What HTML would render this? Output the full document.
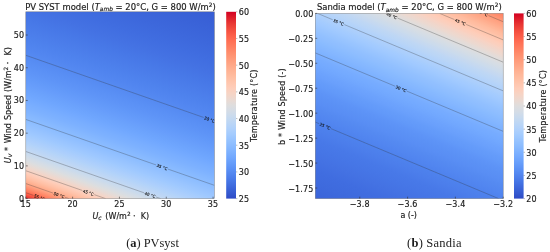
<!DOCTYPE html>
<html><head><meta charset="utf-8"><title>Figure</title>
<style>
html,body{margin:0;padding:0;background:#fff}
svg{display:block;filter:blur(.3px)}
text{font-family:"DejaVu Sans","Liberation Sans",sans-serif;fill:#1a1a1a;stroke:#1a1a1a;stroke-width:.16px}
.tk{font-size:8px}
.tl{letter-spacing:.14px}
.tick{stroke:#333;stroke-width:.6;fill:none}
.tt{font-size:8.45px}
.cl{font-size:4.05px;text-anchor:middle;fill:#111;stroke:#111;stroke-width:.1px;stroke-opacity:1}
.cap{font-family:"Liberation Serif","DejaVu Serif",serif;font-size:13.3px;fill:#1c1c1c;stroke:none}
</style></head><body>
<svg width="550" height="252" viewBox="0 0 550 252">
<defs>
<linearGradient id="gL" gradientUnits="userSpaceOnUse" x1="25.800" y1="198.600" x2="104.474" y2="-26.602"><stop offset="0.0000" stop-color="#db1428"/><stop offset="0.0021" stop-color="#e0232b"/><stop offset="0.0042" stop-color="#e42c2f"/><stop offset="0.0063" stop-color="#e83533"/><stop offset="0.0085" stop-color="#ec3e36"/><stop offset="0.0107" stop-color="#f0453a"/><stop offset="0.0130" stop-color="#f34d3e"/><stop offset="0.0154" stop-color="#f75342"/><stop offset="0.0177" stop-color="#fa5a46"/><stop offset="0.0202" stop-color="#fd614a"/><stop offset="0.0227" stop-color="#ff674f"/><stop offset="0.0253" stop-color="#ff6d53"/><stop offset="0.0279" stop-color="#ff7357"/><stop offset="0.0306" stop-color="#ff795c"/><stop offset="0.0333" stop-color="#ff7e60"/><stop offset="0.0362" stop-color="#ff8465"/><stop offset="0.0391" stop-color="#ff8969"/><stop offset="0.0420" stop-color="#ff8e6e"/><stop offset="0.0451" stop-color="#ff9373"/><stop offset="0.0482" stop-color="#ff9877"/><stop offset="0.0514" stop-color="#ff9d7c"/><stop offset="0.0547" stop-color="#ffa281"/><stop offset="0.0581" stop-color="#ffa686"/><stop offset="0.0616" stop-color="#ffab8b"/><stop offset="0.0652" stop-color="#ffaf8f"/><stop offset="0.0688" stop-color="#ffb394"/><stop offset="0.0726" stop-color="#ffb799"/><stop offset="0.0765" stop-color="#ffbb9e"/><stop offset="0.0805" stop-color="#ffbea3"/><stop offset="0.0846" stop-color="#ffc2a8"/><stop offset="0.0889" stop-color="#ffc5ac"/><stop offset="0.0933" stop-color="#ffc8b1"/><stop offset="0.0978" stop-color="#ffcbb6"/><stop offset="0.1025" stop-color="#fdcebb"/><stop offset="0.1073" stop-color="#fad0bf"/><stop offset="0.1123" stop-color="#f7d3c4"/><stop offset="0.1174" stop-color="#f3d5c8"/><stop offset="0.1228" stop-color="#efd7cd"/><stop offset="0.1283" stop-color="#ebd9d1"/><stop offset="0.1340" stop-color="#e6dbd6"/><stop offset="0.1399" stop-color="#e2dcda"/><stop offset="0.1460" stop-color="#dddede"/><stop offset="0.1524" stop-color="#d9dde2"/><stop offset="0.1589" stop-color="#d5dde5"/><stop offset="0.1658" stop-color="#d1dce8"/><stop offset="0.1729" stop-color="#ccdbeb"/><stop offset="0.1803" stop-color="#c8daee"/><stop offset="0.1881" stop-color="#c4d8f1"/><stop offset="0.1961" stop-color="#bfd7f4"/><stop offset="0.2045" stop-color="#bbd5f6"/><stop offset="0.2132" stop-color="#b6d4f8"/><stop offset="0.2224" stop-color="#b1d2fa"/><stop offset="0.2320" stop-color="#adcffc"/><stop offset="0.2420" stop-color="#a8cdfd"/><stop offset="0.2525" stop-color="#a3cbfe"/><stop offset="0.2635" stop-color="#9ec8ff"/><stop offset="0.2751" stop-color="#9ac5ff"/><stop offset="0.2872" stop-color="#95c2ff"/><stop offset="0.3001" stop-color="#90bfff"/><stop offset="0.3136" stop-color="#8bbcff"/><stop offset="0.3279" stop-color="#87b9ff"/><stop offset="0.3430" stop-color="#82b5ff"/><stop offset="0.3590" stop-color="#7db1ff"/><stop offset="0.3760" stop-color="#79aeff"/><stop offset="0.3941" stop-color="#74aaff"/><stop offset="0.4134" stop-color="#6fa6fe"/><stop offset="0.4340" stop-color="#6ba2fc"/><stop offset="0.4560" stop-color="#679dfb"/><stop offset="0.4796" stop-color="#6299f9"/><stop offset="0.5050" stop-color="#5e94f7"/><stop offset="0.5323" stop-color="#5a90f5"/><stop offset="0.5620" stop-color="#568bf2"/><stop offset="0.5941" stop-color="#5286f0"/><stop offset="0.6291" stop-color="#4e82ed"/><stop offset="0.6673" stop-color="#4b7dea"/><stop offset="0.7092" stop-color="#4778e7"/><stop offset="0.7555" stop-color="#4472e3"/><stop offset="0.8067" stop-color="#406de0"/><stop offset="0.8638" stop-color="#3d68dc"/><stop offset="0.9278" stop-color="#3a63d8"/><stop offset="1.0000" stop-color="#375dd4"/></linearGradient>
<clipPath id="cL"><rect x="25.80" y="11.80" width="188.60" height="186.80"/></clipPath>
<linearGradient id="cbL" x1="0" y1="0" x2="0" y2="1"><stop offset="0.0000" stop-color="#d30022"/><stop offset="0.0312" stop-color="#de1e2a"/><stop offset="0.0625" stop-color="#e93834"/><stop offset="0.0938" stop-color="#f34d3e"/><stop offset="0.1250" stop-color="#fc5e49"/><stop offset="0.1562" stop-color="#ff6f54"/><stop offset="0.1875" stop-color="#ff7e60"/><stop offset="0.2188" stop-color="#ff8d6c"/><stop offset="0.2500" stop-color="#ff9a79"/><stop offset="0.2812" stop-color="#ffa686"/><stop offset="0.3125" stop-color="#ffb293"/><stop offset="0.3438" stop-color="#ffbc9f"/><stop offset="0.3750" stop-color="#ffc5ac"/><stop offset="0.4062" stop-color="#fecdb9"/><stop offset="0.4375" stop-color="#f6d4c5"/><stop offset="0.4688" stop-color="#ebd9d1"/><stop offset="0.5000" stop-color="#dedddd"/><stop offset="0.5312" stop-color="#d4dce6"/><stop offset="0.5625" stop-color="#c8daee"/><stop offset="0.5938" stop-color="#bcd6f5"/><stop offset="0.6250" stop-color="#b0d1fb"/><stop offset="0.6562" stop-color="#a3cbfe"/><stop offset="0.6875" stop-color="#96c3ff"/><stop offset="0.7188" stop-color="#8abbff"/><stop offset="0.7500" stop-color="#7db1ff"/><stop offset="0.7812" stop-color="#71a7fe"/><stop offset="0.8125" stop-color="#659cfa"/><stop offset="0.8438" stop-color="#5a90f5"/><stop offset="0.8750" stop-color="#5083ee"/><stop offset="0.9062" stop-color="#4676e6"/><stop offset="0.9375" stop-color="#3d68dc"/><stop offset="0.9688" stop-color="#355ad1"/><stop offset="1.0000" stop-color="#2e4bc5"/></linearGradient>
<linearGradient id="gR" gradientUnits="userSpaceOnUse" x1="315.300" y1="198.600" x2="409.014" y2="-25.914"><stop offset="0.0000" stop-color="#3b64d9"/><stop offset="0.0572" stop-color="#3e6add"/><stop offset="0.1068" stop-color="#406de0"/><stop offset="0.1507" stop-color="#4472e3"/><stop offset="0.1900" stop-color="#4676e6"/><stop offset="0.2256" stop-color="#4879e8"/><stop offset="0.2582" stop-color="#4c7eeb"/><stop offset="0.2882" stop-color="#4e82ed"/><stop offset="0.3159" stop-color="#5286f0"/><stop offset="0.3418" stop-color="#558af1"/><stop offset="0.3660" stop-color="#598ef4"/><stop offset="0.3888" stop-color="#5b91f5"/><stop offset="0.4103" stop-color="#5e94f7"/><stop offset="0.4306" stop-color="#6299f9"/><stop offset="0.4499" stop-color="#659cfa"/><stop offset="0.4682" stop-color="#6aa0fc"/><stop offset="0.4857" stop-color="#6da3fd"/><stop offset="0.5024" stop-color="#71a7fe"/><stop offset="0.5184" stop-color="#74aaff"/><stop offset="0.5338" stop-color="#77acff"/><stop offset="0.5486" stop-color="#7cb0ff"/><stop offset="0.5628" stop-color="#7fb3ff"/><stop offset="0.5765" stop-color="#84b6ff"/><stop offset="0.5897" stop-color="#87b9ff"/><stop offset="0.6025" stop-color="#8bbcff"/><stop offset="0.6148" stop-color="#8fbeff"/><stop offset="0.6268" stop-color="#92c0ff"/><stop offset="0.6384" stop-color="#96c3ff"/><stop offset="0.6497" stop-color="#9ac5ff"/><stop offset="0.6606" stop-color="#9ec8ff"/><stop offset="0.6712" stop-color="#a2caff"/><stop offset="0.6815" stop-color="#a5ccfe"/><stop offset="0.6916" stop-color="#aacefc"/><stop offset="0.7014" stop-color="#adcffc"/><stop offset="0.7109" stop-color="#b1d2fa"/><stop offset="0.7203" stop-color="#b5d3f9"/><stop offset="0.7294" stop-color="#b9d5f7"/><stop offset="0.7382" stop-color="#bcd6f5"/><stop offset="0.7469" stop-color="#bfd7f4"/><stop offset="0.7554" stop-color="#c4d8f1"/><stop offset="0.7637" stop-color="#c7d9ef"/><stop offset="0.7718" stop-color="#cbdbec"/><stop offset="0.7797" stop-color="#cedbea"/><stop offset="0.7875" stop-color="#d2dce7"/><stop offset="0.7952" stop-color="#d5dde5"/><stop offset="0.8026" stop-color="#d8dde3"/><stop offset="0.8100" stop-color="#dcdddf"/><stop offset="0.8172" stop-color="#dedddd"/><stop offset="0.8242" stop-color="#e3dcd9"/><stop offset="0.8311" stop-color="#e6dbd6"/><stop offset="0.8379" stop-color="#ebd9d1"/><stop offset="0.8446" stop-color="#eed8ce"/><stop offset="0.8512" stop-color="#f0d6cb"/><stop offset="0.8576" stop-color="#f4d4c7"/><stop offset="0.8640" stop-color="#f7d3c4"/><stop offset="0.8702" stop-color="#fad0bf"/><stop offset="0.8764" stop-color="#fccfbc"/><stop offset="0.8824" stop-color="#fecdb9"/><stop offset="0.8884" stop-color="#ffcab4"/><stop offset="0.8942" stop-color="#ffc8b1"/><stop offset="0.9000" stop-color="#ffc5ac"/><stop offset="0.9057" stop-color="#ffc3a9"/><stop offset="0.9113" stop-color="#ffbfa4"/><stop offset="0.9168" stop-color="#ffbda1"/><stop offset="0.9222" stop-color="#ffbb9e"/><stop offset="0.9276" stop-color="#ffb799"/><stop offset="0.9329" stop-color="#ffb496"/><stop offset="0.9381" stop-color="#ffb091"/><stop offset="0.9432" stop-color="#ffad8e"/><stop offset="0.9483" stop-color="#ffa989"/><stop offset="0.9533" stop-color="#ffa686"/><stop offset="0.9582" stop-color="#ffa383"/><stop offset="0.9631" stop-color="#ff9f7e"/><stop offset="0.9679" stop-color="#ff9c7b"/><stop offset="0.9727" stop-color="#ff9776"/><stop offset="0.9774" stop-color="#ff9373"/><stop offset="0.9820" stop-color="#ff8e6e"/><stop offset="0.9866" stop-color="#ff8b6b"/><stop offset="0.9911" stop-color="#ff8768"/><stop offset="0.9956" stop-color="#ff8263"/><stop offset="1.0000" stop-color="#ff7e60"/></linearGradient>
<clipPath id="cR"><rect x="315.30" y="13.40" width="187.90" height="185.20"/></clipPath>
<linearGradient id="cbR" x1="0" y1="0" x2="0" y2="1"><stop offset="0.0000" stop-color="#d30022"/><stop offset="0.0312" stop-color="#de1e2a"/><stop offset="0.0625" stop-color="#e93834"/><stop offset="0.0938" stop-color="#f34d3e"/><stop offset="0.1250" stop-color="#fc5e49"/><stop offset="0.1562" stop-color="#ff6f54"/><stop offset="0.1875" stop-color="#ff7e60"/><stop offset="0.2188" stop-color="#ff8d6c"/><stop offset="0.2500" stop-color="#ff9a79"/><stop offset="0.2812" stop-color="#ffa686"/><stop offset="0.3125" stop-color="#ffb293"/><stop offset="0.3438" stop-color="#ffbc9f"/><stop offset="0.3750" stop-color="#ffc5ac"/><stop offset="0.4062" stop-color="#fecdb9"/><stop offset="0.4375" stop-color="#f6d4c5"/><stop offset="0.4688" stop-color="#ebd9d1"/><stop offset="0.5000" stop-color="#dedddd"/><stop offset="0.5312" stop-color="#d4dce6"/><stop offset="0.5625" stop-color="#c8daee"/><stop offset="0.5938" stop-color="#bcd6f5"/><stop offset="0.6250" stop-color="#b0d1fb"/><stop offset="0.6562" stop-color="#a3cbfe"/><stop offset="0.6875" stop-color="#96c3ff"/><stop offset="0.7188" stop-color="#8abbff"/><stop offset="0.7500" stop-color="#7db1ff"/><stop offset="0.7812" stop-color="#71a7fe"/><stop offset="0.8125" stop-color="#659cfa"/><stop offset="0.8438" stop-color="#5a90f5"/><stop offset="0.8750" stop-color="#5083ee"/><stop offset="0.9062" stop-color="#4676e6"/><stop offset="0.9375" stop-color="#3d68dc"/><stop offset="0.9688" stop-color="#355ad1"/><stop offset="1.0000" stop-color="#2e4bc5"/></linearGradient>
</defs>
<rect width="550" height="252" fill="#fff"/>
<rect x="25.80" y="11.80" width="188.60" height="186.80" fill="url(#gL)"/>
<g clip-path="url(#cL)" stroke="#333" stroke-opacity=".6" stroke-width=".5" fill="none"><path d="M25.80 55.31L203.65 117.44"/><text class="cl" x="209.60" y="121.07" transform="rotate(19.26 209.60 119.52)">30 °C</text><path d="M25.80 119.43L156.05 164.93M167.95 169.09L214.40 185.32"/><text class="cl" x="162.00" y="168.56" transform="rotate(19.26 162.00 167.01)">35 °C</text><path d="M25.80 151.49L144.05 192.80M155.95 196.96L160.65 198.60"/><text class="cl" x="150.00" y="196.43" transform="rotate(19.26 150.00 194.88)">40 °C</text><path d="M25.80 170.73L82.35 190.48M94.25 194.64L105.59 198.60"/><text class="cl" x="88.30" y="194.11" transform="rotate(19.26 88.30 192.56)">45 °C</text><path d="M25.80 183.55L53.05 193.07M64.95 197.23L68.88 198.60"/><text class="cl" x="59.00" y="196.70" transform="rotate(19.26 59.00 195.15)">50 °C</text><path d="M25.80 192.71L33.55 195.42"/><text class="cl" x="39.50" y="199.05" transform="rotate(19.26 39.50 197.50)">55 °C</text></g>
<rect x="25.80" y="11.80" width="188.60" height="186.80" fill="none" stroke="#555" stroke-opacity=".7" stroke-width=".5"/>
<rect x="226.20" y="11.80" width="9.80" height="186.80" fill="url(#cbL)"/><path d="M236.00 198.60h1.4" stroke="#444" stroke-opacity=".7" stroke-width=".5"/><text class="tk tl" x="238.70" y="202.05">25</text><path d="M236.00 171.91h1.4" stroke="#444" stroke-opacity=".7" stroke-width=".5"/><text class="tk tl" x="238.70" y="175.36">30</text><path d="M236.00 145.23h1.4" stroke="#444" stroke-opacity=".7" stroke-width=".5"/><text class="tk tl" x="238.70" y="148.68">35</text><path d="M236.00 118.54h1.4" stroke="#444" stroke-opacity=".7" stroke-width=".5"/><text class="tk tl" x="238.70" y="121.99">40</text><path d="M236.00 91.86h1.4" stroke="#444" stroke-opacity=".7" stroke-width=".5"/><text class="tk tl" x="238.70" y="95.31">45</text><path d="M236.00 65.17h1.4" stroke="#444" stroke-opacity=".7" stroke-width=".5"/><text class="tk tl" x="238.70" y="68.62">50</text><path d="M236.00 38.49h1.4" stroke="#444" stroke-opacity=".7" stroke-width=".5"/><text class="tk tl" x="238.70" y="41.94">55</text><path d="M236.00 11.80h1.4" stroke="#444" stroke-opacity=".7" stroke-width=".5"/><text class="tk tl" x="238.70" y="15.25">60</text>
<text class="tk tl" text-anchor="middle" x="25.80" y="207.20">15</text>
<path class="tick" d="M25.80 198.60v-1.9"/>
<text class="tk tl" text-anchor="middle" x="72.62" y="207.20">20</text>
<path class="tick" d="M72.62 198.60v-1.9"/>
<text class="tk tl" text-anchor="middle" x="119.44" y="207.20">25</text>
<path class="tick" d="M119.44 198.60v-1.9"/>
<text class="tk tl" text-anchor="middle" x="166.27" y="207.20">30</text>
<path class="tick" d="M166.27 198.60v-1.9"/>
<text class="tk tl" text-anchor="middle" x="213.09" y="207.20">35</text>
<path class="tick" d="M213.09 198.60v-1.9"/>
<text class="tk tl" text-anchor="end" x="24.20" y="201.55">0</text>
<path class="tick" d="M25.80 198.60h1.9"/>
<text class="tk tl" text-anchor="end" x="24.20" y="168.84">10</text>
<path class="tick" d="M25.80 165.89h1.9"/>
<text class="tk tl" text-anchor="end" x="24.20" y="136.12">20</text>
<path class="tick" d="M25.80 133.17h1.9"/>
<text class="tk tl" text-anchor="end" x="24.20" y="103.41">30</text>
<path class="tick" d="M25.80 100.46h1.9"/>
<text class="tk tl" text-anchor="end" x="24.20" y="70.69">40</text>
<path class="tick" d="M25.80 67.74h1.9"/>
<text class="tk tl" text-anchor="end" x="24.20" y="37.98">50</text>
<path class="tick" d="M25.80 35.03h1.9"/>
<rect x="315.30" y="13.40" width="187.90" height="185.20" fill="url(#gR)"/>
<g clip-path="url(#cR)" stroke="#333" stroke-opacity=".6" stroke-width=".5" fill="none"><path d="M315.30 122.08L319.19 123.70M330.81 128.56L498.62 198.60"/><text class="cl" x="325.00" y="127.68" transform="rotate(22.66 325.00 126.13)">25 °C</text><path d="M315.30 52.92L395.19 86.26M406.81 91.12L503.20 131.35"/><text class="cl" x="401.00" y="90.24" transform="rotate(22.66 401.00 88.69)">30 °C</text><path d="M317.56 13.40L332.69 19.72M344.31 24.57L503.20 90.89"/><text class="cl" x="338.50" y="23.69" transform="rotate(22.66 338.50 22.14)">35 °C</text><path d="M397.61 18.11L503.20 62.18"/><text class="cl" x="391.80" y="17.23" transform="rotate(22.66 391.80 15.68)">40 °C</text><path d="M439.67 13.40L454.49 19.58M466.11 24.44L503.20 39.92"/><text class="cl" x="460.30" y="23.56" transform="rotate(22.66 460.30 22.01)">45 °C</text><path d="M488.41 15.55L503.20 21.72"/><text class="cl" x="482.60" y="14.67" transform="rotate(22.66 482.60 13.12)">50 °C</text></g>
<rect x="315.30" y="13.40" width="187.90" height="185.20" fill="none" stroke="#555" stroke-opacity=".7" stroke-width=".5"/>
<rect x="514.00" y="13.40" width="9.60" height="185.20" fill="url(#cbR)"/><path d="M523.60 198.60h1.4" stroke="#444" stroke-opacity=".7" stroke-width=".5"/><text class="tk tl" x="526.30" y="202.05">20</text><path d="M523.60 175.45h1.4" stroke="#444" stroke-opacity=".7" stroke-width=".5"/><text class="tk tl" x="526.30" y="178.90">25</text><path d="M523.60 152.30h1.4" stroke="#444" stroke-opacity=".7" stroke-width=".5"/><text class="tk tl" x="526.30" y="155.75">30</text><path d="M523.60 129.15h1.4" stroke="#444" stroke-opacity=".7" stroke-width=".5"/><text class="tk tl" x="526.30" y="132.60">35</text><path d="M523.60 106.00h1.4" stroke="#444" stroke-opacity=".7" stroke-width=".5"/><text class="tk tl" x="526.30" y="109.45">40</text><path d="M523.60 82.85h1.4" stroke="#444" stroke-opacity=".7" stroke-width=".5"/><text class="tk tl" x="526.30" y="86.30">45</text><path d="M523.60 59.70h1.4" stroke="#444" stroke-opacity=".7" stroke-width=".5"/><text class="tk tl" x="526.30" y="63.15">50</text><path d="M523.60 36.55h1.4" stroke="#444" stroke-opacity=".7" stroke-width=".5"/><text class="tk tl" x="526.30" y="40.00">55</text><path d="M523.60 13.40h1.4" stroke="#444" stroke-opacity=".7" stroke-width=".5"/><text class="tk tl" x="526.30" y="16.85">60</text>
<text class="tk tl" text-anchor="middle" x="359.76" y="207.20">−3.8</text>
<path class="tick" d="M359.76 198.60v-1.9"/>
<text class="tk tl" text-anchor="middle" x="407.58" y="207.20">−3.6</text>
<path class="tick" d="M407.58 198.60v-1.9"/>
<text class="tk tl" text-anchor="middle" x="455.39" y="207.20">−3.4</text>
<path class="tick" d="M455.39 198.60v-1.9"/>
<text class="tk tl" text-anchor="middle" x="503.20" y="207.20">−3.2</text>
<path class="tick" d="M503.20 198.60v-1.9"/>
<text class="tk tl" text-anchor="end" x="313.50" y="17.00">0.00</text>
<path class="tick" d="M315.30 13.40h1.9"/>
<text class="tk tl" text-anchor="end" x="313.50" y="41.95">−0.25</text>
<path class="tick" d="M315.30 38.35h1.9"/>
<text class="tk tl" text-anchor="end" x="313.50" y="66.89">−0.50</text>
<path class="tick" d="M315.30 63.29h1.9"/>
<text class="tk tl" text-anchor="end" x="313.50" y="91.84">−0.75</text>
<path class="tick" d="M315.30 88.24h1.9"/>
<text class="tk tl" text-anchor="end" x="313.50" y="116.78">−1.00</text>
<path class="tick" d="M315.30 113.18h1.9"/>
<text class="tk tl" text-anchor="end" x="313.50" y="141.73">−1.25</text>
<path class="tick" d="M315.30 138.13h1.9"/>
<text class="tk tl" text-anchor="end" x="313.50" y="166.68">−1.50</text>
<path class="tick" d="M315.30 163.08h1.9"/>
<text class="tk tl" text-anchor="end" x="313.50" y="191.62">−1.75</text>
<path class="tick" d="M315.30 188.02h1.9"/>
<text class="tt" text-anchor="middle" x="120.5" y="9.5">PV SYST model (<tspan font-style="italic">T</tspan><tspan font-style="italic" font-size="5.9" dy="1.4">amb</tspan><tspan dy="-1.4"> = 20°C, G = 800 W/m</tspan><tspan font-size="5.9" dy="-3">2</tspan><tspan dy="3">)</tspan></text>
<text class="tt" text-anchor="middle" x="409.3" y="10.4">Sandia model (<tspan font-style="italic">T</tspan><tspan font-style="italic" font-size="5.9" dy="1.4">amb</tspan><tspan dy="-1.4"> = 20°C, G = 800 W/m</tspan><tspan font-size="5.9" dy="-3">2</tspan><tspan dy="3">)</tspan></text>
<text class="tk" x="92.4" y="218.6"><tspan font-style="italic">U</tspan><tspan font-style="italic" font-size="6.1" dy="1.5">c</tspan><tspan dy="-1.5" dx="1.2"> (W/m</tspan><tspan font-size="5.8" dy="-2.8">2</tspan><tspan dy="2.8"> ·</tspan><tspan dx="2.6"> K)</tspan></text>
<text class="tk" text-anchor="middle" x="408.7" y="217.6">a (-)</text>
<text class="tk" transform="translate(10.6 163.2) rotate(-90)"><tspan font-style="italic">U</tspan><tspan font-style="italic" font-size="6.1" dy="1.5">v</tspan><tspan dy="-1.5" dx="0.2"> *</tspan><tspan dx="1.2"> Wind</tspan><tspan dx="0.6"> Speed</tspan><tspan dx="0.3"> (W/m</tspan><tspan font-size="5.8" dy="-2.8">2</tspan><tspan dy="2.8"> ·</tspan><tspan dx="3.6"> K)</tspan></text>
<text class="tk" text-anchor="middle" letter-spacing="0.18" transform="translate(284.9 106.6) rotate(-90)">b * Wind Speed (-)</text>
<text class="tk" text-anchor="middle" letter-spacing="0.23" transform="translate(257.3 105.7) rotate(-90)">Temperature (°C)</text>
<text class="tk" text-anchor="middle" letter-spacing="0.23" transform="translate(545.8 106.2) rotate(-90)">Temperature (°C)</text>
<text class="cap" style="font-size:12.4px" text-anchor="middle" x="152.5" y="247"><tspan>(</tspan><tspan font-weight="bold">a</tspan><tspan>) PVsyst</tspan></text>
<text class="cap" style="font-size:12.5px;letter-spacing:.22px" text-anchor="middle" x="434.4" y="247"><tspan>(</tspan><tspan font-weight="bold">b</tspan><tspan>) Sandia</tspan></text>
</svg>
</body></html>
